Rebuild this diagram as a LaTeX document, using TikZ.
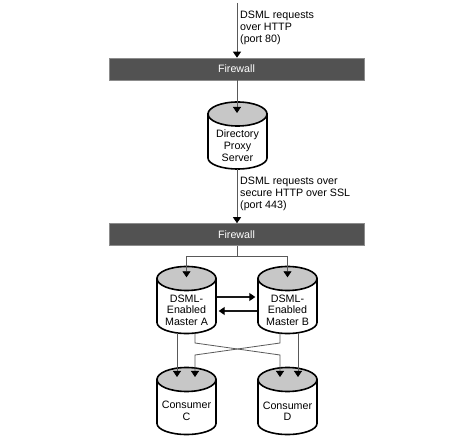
\documentclass[tikz,border=0pt]{standalone}
\usepackage{fontspec}
\setmainfont{Liberation Sans}
\usetikzlibrary{arrows.meta,calc}

\tikzset{
  firewall/.style={fill=black!68, draw=black!45, line width=0.6pt, text=white, minimum width=255pt, minimum height=22pt, inner sep=0pt},
  rim/.style={draw=black, line width=1.6pt},
  drumbox/.style={align=center, minimum width=60pt, minimum height=67pt, inner sep=0pt},
  note/.style={align=left, anchor=north west, inner sep=0pt},
  flow/.style={draw=black!65, line width=0.8pt, -{Triangle[length=6pt, width=8pt, color=black]}},
  sync/.style={draw=black!90, line width=1.1pt, -{Triangle[length=6pt, width=8pt, color=black]}},
  wire/.style={draw=black!65, line width=0.8pt},
}

% name, x, y, text
\newcommand{\drum}[4]{
  \begin{scope}[shift={(#2,#3)}]
    \path[rim, fill=white] (-29.5,-21.5) -- (-29.5,22.5)
      arc[x radius=29.5pt, y radius=11pt, start angle=180, end angle=360]
      -- (29.5,-21.5) -- cycle;
    \path[rim, fill=black!22] (0,-21.5) ellipse [x radius=29.5pt, y radius=12pt];
  \end{scope}
  \node[drumbox] (#1) at (#2,#3) {\rule{0pt}{28pt}#4};
}

\begin{document}
\begin{tikzpicture}[x=1pt, y=-1pt, font=\fontsize{10.7}{11.9}\selectfont]
  \useasboundingbox (0,0) rectangle (474,443);

  % Firewalls
  \node[firewall] (wallA) at (236.5,69) {Firewall};
  \node[firewall] (wallB) at (236.5,234.5) {Firewall};

  % Cylinders
  \drum{proxy}{237.5}{135.5}{Directory\\Proxy\\Server}
  \drum{masterA}{186.5}{300}{DSML-\\Enabled\\Master A}
  \drum{masterB}{287.5}{300}{DSML-\\Enabled\\Master B}
  \drum{consumerC}{186.5}{401}{Consumer\\C}
  \drum{consumerD}{287.5}{401}{Consumer\\D}

  % Request labels
  \node[note] (httplabel) at (240,11) {DSML requests\\over HTTP\\(port 80)};
  \node[note] (ssllabel) at (240,177) {DSML requests over\\secure HTTP over SSL\\(port 443)};

  % Incoming requests
  \coordinate (client) at (237,3);
  \draw[flow] (client) -- (client |- wallA.north);
  \draw[flow] (wallA.south -| client) -- (client |- 0,113);
  \draw[flow] (proxy.south -| client) -- (client |- wallB.north);

  % Firewall to both masters
  \coordinate (split) at (237,256);
  \draw[wire] (wallB.south -| split) -- (split);
  \draw[flow] (split) -| ($(masterA.north)+(0,11)$);
  \draw[flow] (split) -| ($(masterB.north)+(0,11)$);

  % Replication between masters
  \draw[sync] (masterA.east |- 0,297) -- ($(masterB.west |- 0,297)+(-2,0)$);
  \draw[sync] (masterB.west |- 0,311) -- ($(masterA.east |- 0,311)+(2,0)$);

  % Straight down to consumers
  \draw[flow] (177,333) -- (177,377);
  \draw[flow] (298,333) -- (298,377);

  % Crossing lines
  \draw[flow] (195,333) -- (195,343) -- (280,355) -- (280,377);
  \draw[flow] (280,333) -- (280,343) -- (195,355) -- (195,377);
\end{tikzpicture}
\end{document}
